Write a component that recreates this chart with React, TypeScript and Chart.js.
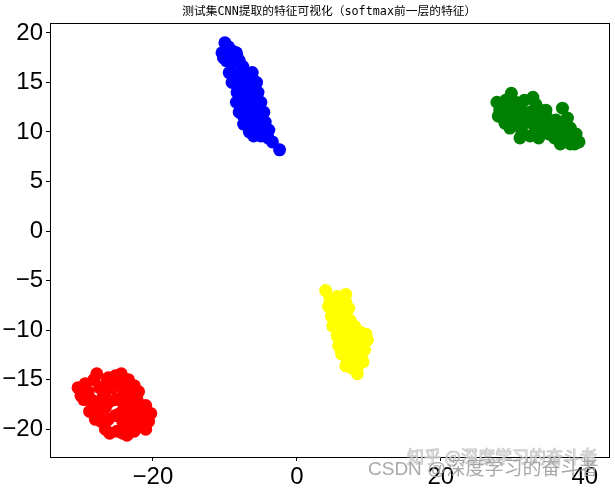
import { useEffect, useRef } from "react";
import { Chart, registerables } from "chart.js";

Chart.register(...registerables);

const titleText = "测试集CNN提取的特征可视化（softmax前一层的特征）";
const xTicks = [-20, 0, 20, 40];
const yTicks = [-20, -15, -10, -5, 0, 5, 10, 15, 20];

const redPoints: [number, number][] = [
  [-30.4, -15.8], [-30.0, -16.6], [-29.4, -15.4], [-29.0, -16.2], [-28.6, -17.0], [-28.2, -15.0],
  [-27.8, -14.4], [-27.4, -15.8], [-27.0, -16.8], [-28.4, -17.8], [-27.6, -18.4], [-26.6, -17.8],
  [-26.4, -15.2], [-25.6, -15.8], [-25.2, -14.6], [-24.4, -14.4], [-24.8, -15.4], [-24.0, -16.2],
  [-23.4, -15.0], [-22.6, -15.6], [-23.0, -16.6], [-22.2, -17.0], [-25.2, -17.0], [-24.0, -17.8],
  [-23.4, -18.2], [-22.6, -18.4], [-21.8, -18.0], [-21.0, -17.6], [-20.3, -18.4], [-27.2, -19.2],
  [-26.6, -20.0], [-26.2, -19.0], [-25.0, -20.2], [-24.2, -20.4], [-23.4, -19.6], [-22.6, -20.2],
  [-21.8, -19.4], [-21.0, -20.0], [-20.6, -19.2], [-23.6, -20.6], [-26.0, -20.4], [-28.0, -19.0],
  [-22.0, -16.2], [-26.2, -14.8], [-29.6, -17.0], [-24.2, -19.2], [-21.4, -18.8], [-28.8, -18.2],
  [-24.4, -16.8], [-23.2, -17.2], [-26.0, -17.2], [-25.2, -18.6], [-22.8, -19.2], [-26.6, -16.2],
  [-23.8, -15.6], [-27.6, -17.4], [-24.6, -18.4], [-22.4, -17.8],
];

const bluePoints: [number, number][] = [
  [-10.0, 19.0], [-9.5, 18.6], [-10.4, 18.0], [-9.0, 18.2], [-8.4, 18.0], [-8.3, 17.6],
  [-9.8, 17.2], [-8.8, 17.0], [-7.5, 16.6], [-9.4, 16.0], [-8.6, 15.8], [-7.8, 15.6],
  [-6.8, 15.5], [-6.0, 15.2], [-9.0, 15.0], [-8.2, 14.8], [-7.2, 14.6], [-6.3, 14.3],
  [-5.4, 14.0], [-8.3, 14.0], [-7.9, 13.6], [-7.0, 13.4], [-6.0, 13.2], [-5.0, 13.0],
  [-8.4, 13.0], [-7.6, 12.6], [-6.6, 12.4], [-5.6, 12.2], [-4.6, 12.0], [-8.0, 12.0],
  [-7.4, 11.6], [-6.4, 11.4], [-5.4, 11.2], [-4.4, 11.0], [-7.4, 10.8], [-6.8, 10.6],
  [-5.8, 10.4], [-4.8, 10.3], [-3.9, 10.2], [-6.6, 10.0], [-6.0, 9.6], [-5.0, 9.6],
  [-4.0, 9.4], [-3.4, 9.0], [-2.4, 8.2], [-5.4, 10.9], [-6.2, 16.0], [-5.6, 15.0],
  [-8.0, 17.2], [-10.2, 17.5],
];

const greenPoints: [number, number][] = [
  [27.8, 13.0], [28.2, 12.2], [28.0, 11.6], [29.0, 13.2], [29.8, 13.9], [30.4, 13.0],
  [29.4, 12.4], [30.2, 12.0], [29.0, 11.4], [30.0, 11.0], [29.6, 10.4], [31.0, 12.6],
  [31.4, 11.8], [30.8, 11.2], [31.2, 10.2], [31.0, 9.4], [32.8, 13.5], [32.4, 12.0],
  [32.0, 11.0], [32.4, 9.6], [33.0, 10.6], [33.4, 11.6], [33.8, 12.2], [34.2, 11.0],
  [34.0, 10.2], [33.6, 9.4], [34.8, 11.4], [35.2, 10.6], [35.0, 9.8], [36.9, 12.4],
  [36.0, 11.2], [36.2, 10.2], [35.8, 9.4], [37.0, 11.0], [37.2, 10.0], [37.0, 9.2],
  [36.6, 8.8], [38.0, 10.4], [38.2, 9.6], [38.0, 8.8], [38.8, 9.8], [39.2, 9.0],
  [37.6, 11.4], [34.6, 12.2], [33.2, 12.8], [28.6, 12.8], [38.6, 8.8], [31.6, 13.2],
  [28.9, 10.9],
];

const yellowPoints: [number, number][] = [
  [4.0, -6.0], [4.6, -6.8], [5.6, -6.6], [6.8, -6.4], [4.4, -7.6], [5.2, -7.8],
  [6.2, -7.6], [7.2, -7.8], [4.8, -8.6], [5.8, -8.4], [6.6, -8.8], [7.4, -9.0],
  [5.0, -9.6], [6.0, -9.4], [7.0, -9.8], [8.0, -9.6], [8.8, -10.2], [9.6, -10.4],
  [5.6, -10.6], [6.2, -10.4], [6.8, -10.8], [7.8, -10.6], [8.6, -11.2], [9.8, -11.0],
  [5.8, -11.6], [6.4, -11.8], [7.4, -11.6], [8.2, -12.0], [9.0, -12.4], [6.2, -12.4],
  [7.0, -12.8], [7.8, -12.6], [8.6, -13.0], [9.2, -13.2], [6.8, -13.6], [7.6, -13.8],
  [8.4, -13.8], [8.4, -14.4], [9.4, -12.0], [5.2, -8.2], [6.8, -7.2], [7.6, -10.2],
  [6.2, -11.0], [8.4, -11.6],
];

const seriesColors = ["red", "blue", "green", "yellow"];

const fmt = (v: number) => String(v).replace("-", "\u2212");

const framePlugin = {
  id: "frame",
  afterDatasetsDraw(chart: any) {
    const { ctx, chartArea } = chart;
    ctx.save();
    ctx.strokeStyle = "#000";
    ctx.lineWidth = 1;
    ctx.strokeRect(
      Math.round(chartArea.left) + 0.5,
      Math.round(chartArea.top) + 0.5,
      Math.round(chartArea.right - chartArea.left),
      Math.round(chartArea.bottom - chartArea.top)
    );
    ctx.restore();
  },
  afterDraw(chart: any) {
    const ctx = chart.ctx;
    ctx.save();
    ctx.textBaseline = "middle";
    ctx.textAlign = "left";
    ctx.font = "17px 'Noto Sans CJK SC', sans-serif";
    ctx.globalAlpha = 0.75;
    ctx.lineWidth = 1;
    ctx.strokeStyle = "#b8b8b8";
    ctx.fillStyle = "#ffffff";
    ctx.fillText("知乎 @深度学习的奋斗者", 407, 457);
    ctx.strokeText("知乎 @深度学习的奋斗者", 407, 457);
    ctx.globalAlpha = 0.9;
    ctx.font = "19px 'Liberation Sans', 'Noto Sans CJK SC', sans-serif";
    ctx.fillStyle = "#a0a0a0";
    ctx.fillText("CSDN @深度学习的奋斗者", 368, 470);
    ctx.restore();
  },
};

const tickFont = { size: 24, family: "'Liberation Sans', Arial, sans-serif" };

export default function App() {
  const ref = useRef<HTMLCanvasElement | null>(null);
  useEffect(() => {
    if (!ref.current) return;
    const toXY = (arr: [number, number][]) => arr.map(([x, y]) => ({ x, y }));
    const groups = [redPoints, bluePoints, greenPoints, yellowPoints];
    const chart = new Chart(ref.current, {
      type: "scatter",
      data: {
        datasets: groups.map((g, i) => ({
          data: toXY(g),
          backgroundColor: seriesColors[i],
          borderColor: seriesColors[i],
          borderWidth: 0,
          pointRadius: 6.5,
        })),
      },
      options: {
        responsive: false,
        animation: false,
        layout: { padding: { left: 0, right: 6, top: 0, bottom: 0 } },
        plugins: {
          legend: { display: false },
          tooltip: { enabled: false },
          title: {
            display: true,
            fullSize: false,
            text: titleText,
            color: "#000",
            font: {
              size: 11.75,
              weight: "normal",
              family: "'DejaVu Sans Mono', 'Noto Sans CJK SC', monospace",
            },
            padding: { top: 5, bottom: 3.9 },
          },
        },
        scales: {
          x: {
            type: "linear",
            min: -34.3,
            max: 43.3,
            afterBuildTicks: (s: any) => {
              s.ticks = xTicks.map((v) => ({ value: v }));
            },
            afterFit: (s: any) => {
              s.height = 33;
            },
            grid: { display: true, drawOnChartArea: false, tickLength: 4, color: "#000" },
            border: { display: true, color: "#000", width: 1 },
            ticks: {
              color: "#000",
              font: tickFont,
              padding: 2,
              maxRotation: 0,
              autoSkip: false,
              callback: (v: any) => fmt(v),
            },
          },
          y: {
            type: "linear",
            min: -22.8,
            max: 21.0,
            afterBuildTicks: (s: any) => {
              s.ticks = yTicks.map((v) => ({ value: v }));
            },
            afterFit: (s: any) => {
              s.width = 50;
            },
            grid: { display: true, drawOnChartArea: false, tickLength: 4, color: "#000" },
            border: { display: true, color: "#000", width: 1 },
            ticks: {
              color: "#000",
              font: tickFont,
              padding: 3,
              autoSkip: false,
              callback: (v: any) => fmt(v),
            },
          },
        },
      },
      plugins: [framePlugin],
    } as any);
    return () => chart.destroy();
  }, []);
  return (
    <div style={{ position: "absolute", left: 0, top: 0, width: 615, height: 490, background: "#fff" }}>
      <canvas ref={ref} width={615} height={490} style={{ display: "block" }} />
    </div>
  );
}
